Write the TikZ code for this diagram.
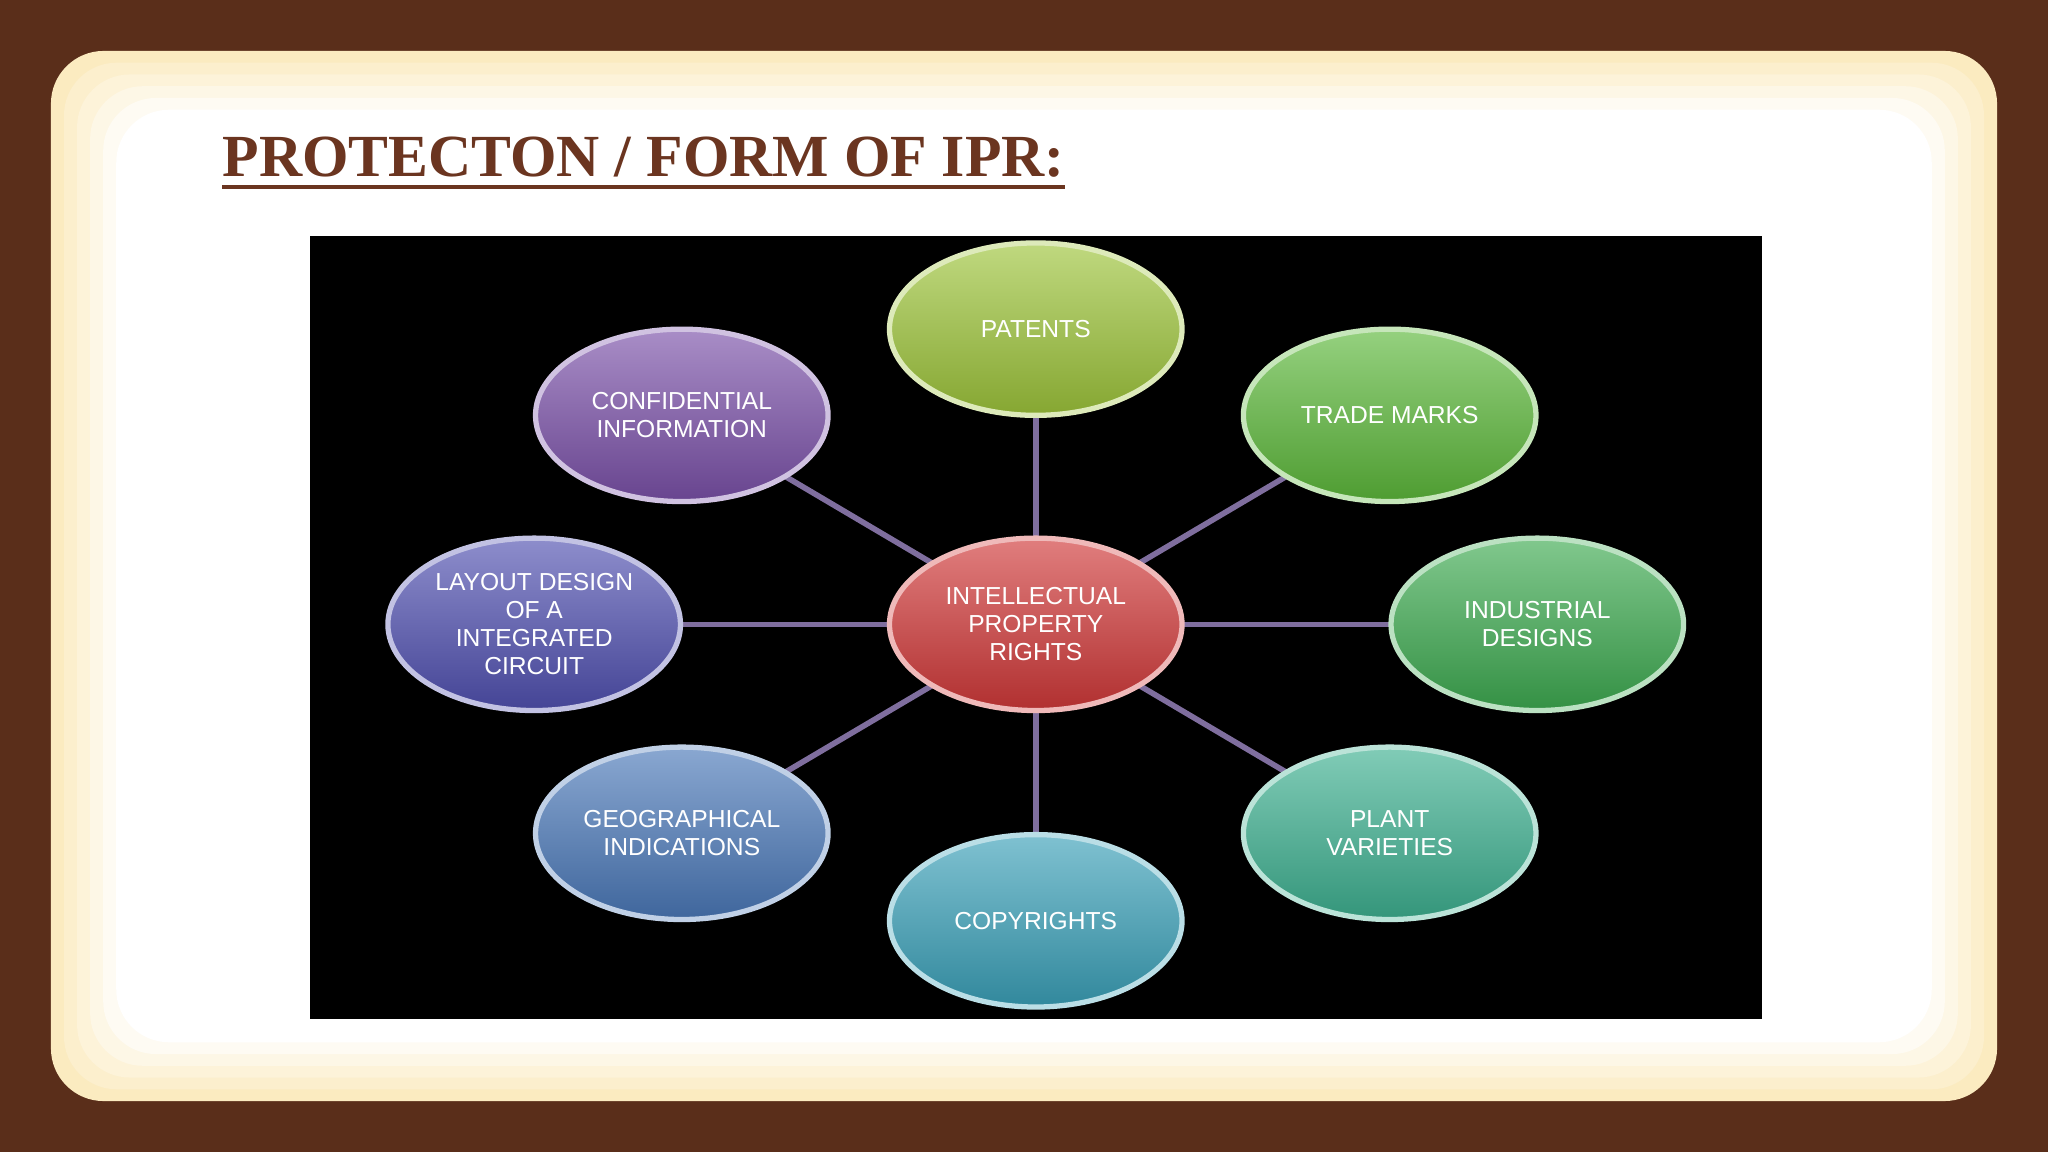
\documentclass[tikz,border=0pt]{standalone}
\usepackage{fontspec}
\setmainfont{Liberation Serif}
\newfontfamily\lab{Liberation Sans}
\usetikzlibrary{shapes.geometric}
\definecolor{bg}{HTML}{5A2E1A}
\definecolor{cream}{HTML}{FBEBC0}
\definecolor{ttl}{HTML}{6B3520}
\definecolor{lnk}{HTML}{7F6E9E}
\definecolor{cPat}{HTML}{9DC43A}
\definecolor{cTm}{HTML}{5CB83A}
\definecolor{cInd}{HTML}{3DAA50}
\definecolor{cPl}{HTML}{3DB090}
\definecolor{cCop}{HTML}{3AA0B8}
\definecolor{cGeo}{HTML}{4A78B8}
\definecolor{cLay}{HTML}{5050B0}
\definecolor{cCon}{HTML}{7A50A8}
\definecolor{cCen}{HTML}{D03838}
\tikzset{
  bub/.style={ellipse, minimum width=224*0.01306cm, minimum height=132*0.01306cm,
    top color=#1!65!white, bottom color=#1!85!black, draw=#1!35!white, line width=1.5pt,
    text=white, align=center, font=\lab\fontsize{7}{8}\selectfont, inner sep=0pt},
  link/.style={draw=lnk, line width=1.6pt}
}
\begin{document}
\begin{tikzpicture}[x=0.01306cm,y=-0.01306cm]
\useasboundingbox (0,0) rectangle (1568,882);
\fill[bg] (0,0) rectangle (1568,882);
\fill[cream, rounded corners=15] (39,39) rectangle (1529,843);
\foreach \i/\c in {1/20,2/40,3/60,4/80,5/100}{
  \fill[white!\c!cream, rounded corners=15] (39+\i*10,39+\i*9) rectangle (1529-\i*10,843-\i*9);
}
\node[anchor=base west, text=ttl, font=\bfseries\fontsize{17}{20}\selectfont, inner sep=0pt] (title) at (170,135) {PROTECTON / FORM OF IPR:};
\draw[ttl, line width=1.2pt] ([yshift=-3pt]title.base west) -- ([yshift=-3pt]title.base east);
\fill[black] (237,181) rectangle (1349,780);
\coordinate (cc) at (793,478);
\foreach \p in {(793,252),(1064,318),(1177,478),(1064,638),(793,705),(522,638),(409,478),(522,318)}
  \draw[link] (cc) -- \p;
\node[bub=cCen] (ipr) at (793,478) {INTELLECTUAL\\PROPERTY\\RIGHTS};
\node[bub=cPat] (pat) at (793,252) {PATENTS};
\node[bub=cTm] (tm) at (1064,318) {TRADE MARKS};
\node[bub=cInd] (ind) at (1177,478) {INDUSTRIAL\\DESIGNS};
\node[bub=cPl] (pl) at (1064,638) {PLANT\\VARIETIES};
\node[bub=cCop] (cop) at (793,705) {COPYRIGHTS};
\node[bub=cGeo] (geo) at (522,638) {GEOGRAPHICAL\\INDICATIONS};
\node[bub=cLay] (lay) at (409,478) {LAYOUT DESIGN\\OF A\\INTEGRATED\\CIRCUIT};
\node[bub=cCon] (con) at (522,318) {CONFIDENTIAL\\INFORMATION};
\end{tikzpicture}
\end{document}
